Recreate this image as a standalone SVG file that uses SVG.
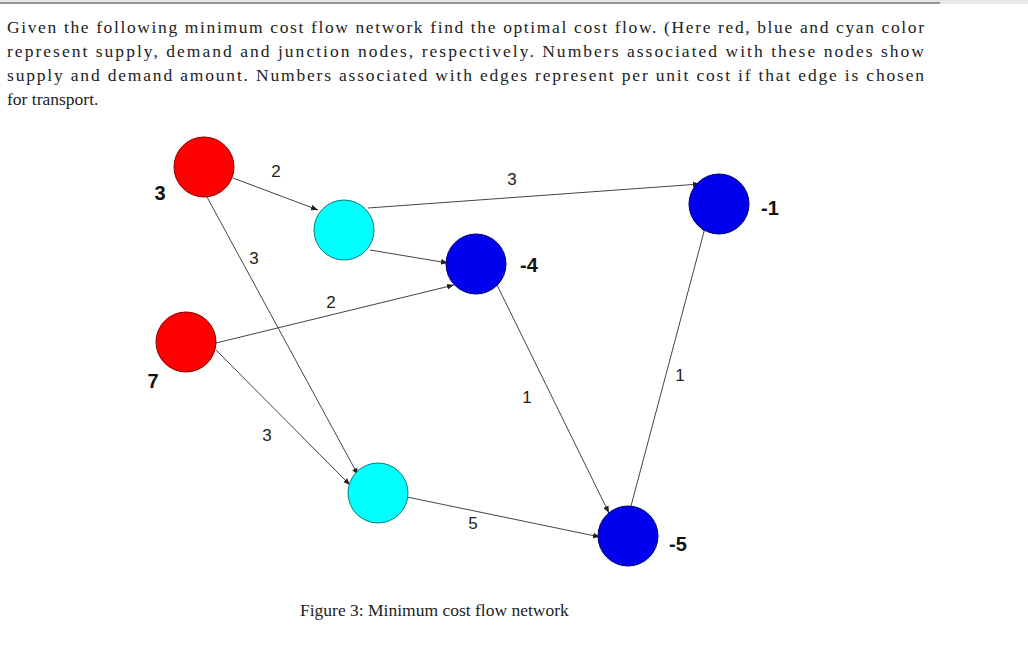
<svg xmlns="http://www.w3.org/2000/svg" width="1028" height="657" viewBox="0 0 1028 657">
<defs>
<linearGradient id="top" x1="0" y1="0" x2="0" y2="1"><stop offset="0" stop-color="#e6e6e6"/><stop offset="1" stop-color="#ffffff"/></linearGradient>
<marker id="ah" viewBox="0 0 10 10" refX="10" refY="5" markerWidth="7" markerHeight="7" orient="auto" markerUnits="userSpaceOnUse"><path d="M0,1 L10,5 L0,9 z" fill="#222"/></marker>
<style>
.p{font-family:"Liberation Serif",serif;font-size:17.5px;fill:#222}
.e{stroke:#444;stroke-width:1;fill:none;marker-end:url(#ah)}
.l{font-family:"Liberation Sans",Arial,sans-serif;font-size:17px;fill:#222;text-anchor:middle}
.b{font-family:"Liberation Sans",Arial,sans-serif;font-size:20px;font-weight:bold;fill:#111;text-anchor:middle}
.red{fill:#ff0000;stroke:#8a0000}
.cy{fill:#00ffff;stroke:#0a7a7a}
.bl{fill:#0000ee;stroke:#00006a}
</style>
</defs>
<rect x="0" y="0" width="1028" height="20" fill="url(#top)"/>
<rect x="0" y="4" width="1028" height="653" fill="#fff"/>
<line x1="0" y1="3" x2="940" y2="3" stroke="#777" stroke-width="1.5"/>
<text class="p" x="7" y="33" textLength="917" lengthAdjust="spacing">Given the following minimum cost flow network find the optimal cost flow. (Here red, blue and cyan color</text>
<text class="p" x="7" y="57" textLength="917" lengthAdjust="spacing">represent supply, demand and junction nodes, respectively.  Numbers associated with these nodes show</text>
<text class="p" x="7" y="81" textLength="917" lengthAdjust="spacing">supply and demand amount. Numbers associated with edges represent per unit cost if that edge is chosen</text>
<text class="p" x="7" y="105">for transport.</text>
<g id="connectors">
<line class="e" x1="233" y1="178" x2="318" y2="210"/>
<line class="e" x1="368" y1="208" x2="700" y2="184"/>
<line class="e" x1="370" y1="250" x2="448" y2="263"/>
<line class="e" x1="216" y1="343" x2="454" y2="285"/>
<line class="e" x1="207" y1="197" x2="358" y2="475"/>
<line class="e" x1="216" y1="350" x2="350" y2="485"/>
<line class="e" x1="497" y1="285" x2="609" y2="513"/>
<line class="e" x1="407" y1="497" x2="600" y2="537"/>
<line class="e" x1="631" y1="506" x2="706" y2="224"/>
</g>
<g id="labels">
<text class="l" x="276" y="177">2</text>
<text class="l" x="512" y="185">3</text>
<text class="l" x="254" y="264">3</text>
<text class="l" x="331" y="308">2</text>
<text class="l" x="267" y="441">3</text>
<text class="l" x="527" y="403">1</text>
<text class="l" x="680" y="381">1</text>
<text class="l" x="473" y="529">5</text>
</g>
<g id="n1"><circle class="red" cx="204" cy="167" r="30"/><text class="b" x="160" y="200">3</text></g>
<g id="n2"><circle class="red" cx="186" cy="342" r="30"/><text class="b" x="153" y="388">7</text></g>
<g id="n3"><circle class="cy" cx="344" cy="230" r="30"/></g>
<g id="n4"><circle class="cy" cx="378" cy="493" r="30"/></g>
<g id="n5"><circle class="bl" cx="476" cy="264" r="30"/><text class="b" x="529" y="272">-4</text></g>
<g id="n6"><circle class="bl" cx="719" cy="204" r="30"/><text class="b" x="770" y="215">-1</text></g>
<g id="n7"><circle class="bl" cx="628" cy="536" r="30"/><text class="b" x="678" y="551">-5</text></g>
<text class="p" x="300" y="616">Figure 3:   Minimum cost flow network</text>
</svg>
